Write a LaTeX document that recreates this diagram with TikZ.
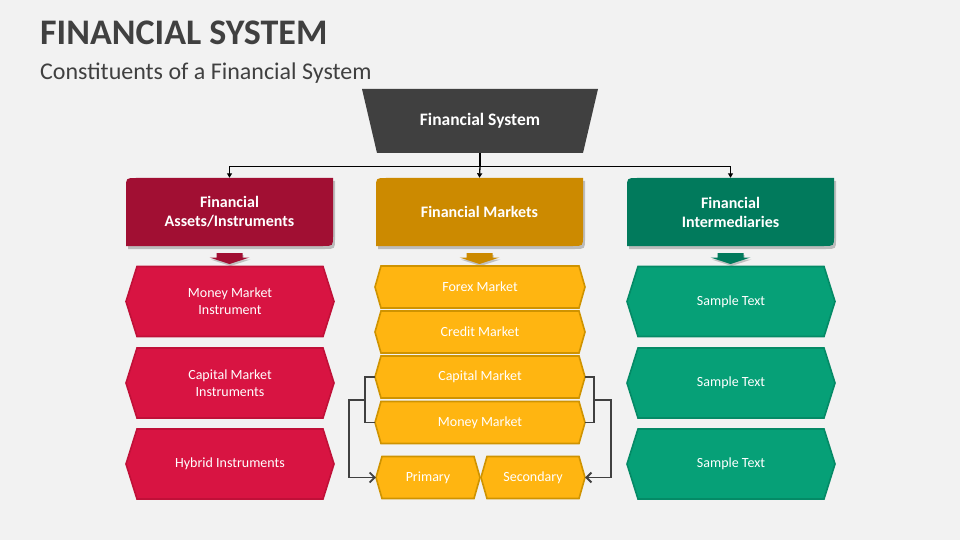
\documentclass[tikz,border=0pt]{standalone}
\usepackage{fontspec}
\setmainfont{Carlito}
\usetikzlibrary{arrows.meta,calc}
\definecolor{bg}{HTML}{F2F2F2}
\definecolor{ink}{HTML}{404040}
\definecolor{crimD}{HTML}{A10F33}
\definecolor{crimL}{HTML}{D81442}
\definecolor{crimB}{HTML}{C01038}
\definecolor{goldD}{HTML}{CC8A00}
\definecolor{goldL}{HTML}{FFB511}
\definecolor{goldB}{HTML}{CF9300}
\definecolor{tealD}{HTML}{017A5C}
\definecolor{tealL}{HTML}{06A077}
\definecolor{tealB}{HTML}{048A66}
% #1 name, #2 cx, #3 cy, #4 colour, #5 text
\newcommand\hdrbox[5]{%
  \fill[black,opacity=.22,shift={(2,3)}] (#2-103.5,#3+34) -- (#2-103.5,#3-24) .. controls (#2-103.5,#3-34) .. (#2-93.5,#3-34) -- (#2+103.5,#3-34) -- (#2+103.5,#3+24) .. controls (#2+103.5,#3+34) .. (#2+93.5,#3+34) -- cycle;
  \fill[#4] (#2-103.5,#3+34) -- (#2-103.5,#3-24) .. controls (#2-103.5,#3-34) .. (#2-93.5,#3-34) -- (#2+103.5,#3-34) -- (#2+103.5,#3+24) .. controls (#2+103.5,#3+34) .. (#2+93.5,#3+34) -- cycle;
  \fill[black,opacity=.2,shift={(1,2)}] (#2-13,253) -- (#2+13,253) -- (#2+13,257.5) -- (#2+20,257.5) -- (#2,264) -- (#2-20,257.5) -- (#2-13,257.5) -- cycle;
  \fill[#4] (#2-13,253) -- (#2+13,253) -- (#2+13,257.5) -- (#2+20,257.5) -- (#2,264) -- (#2-20,257.5) -- (#2-13,257.5) -- cycle;
  \node[hdrtext, minimum width=207, minimum height=68] (#1) at (#2,#3) {#5};
}
% #1 name, #2 cx, #3 cy, #4 half width, #5 half height, #6 indent, #7 fill, #8 border, #9 text
\newcommand\hexbox[9]{%
  \filldraw[fill=#7, draw=#8, line width=1.6] (#2-#4,#3) -- (#2-#4+#6,#3-#5) -- (#2+#4-#6,#3-#5) -- (#2+#4,#3) -- (#2+#4-#6,#3+#5) -- (#2-#4+#6,#3+#5) -- cycle;
  \node[hextext, minimum width=2*#4, minimum height=2*#5] (#1) at (#2,#3) {#9};
}
\tikzset{
  hdrtext/.style={text=white, align=center, inner sep=0, font=\fontsize{16}{19}\selectfont\bfseries},
  hextext/.style={text=white, align=center, inner sep=0, font=\fontsize{14}{17}\selectfont},
  conn/.style={black, line width=1.3, -{Triangle[length=4.5,width=5]}},
  brk/.style={ink, line width=1.8},
  brkarrow/.style={ink, line width=1.8, -{Straight Barb[length=5,width=10,line width=1.8]}}
}
\begin{document}
\begin{tikzpicture}[x=1pt,y=-1pt]
\fill[bg] (0,0) rectangle (960,540);
\useasboundingbox (0,0) rectangle (960,540);
% titles
\node[anchor=base west, inner sep=0, text=ink, font=\fontsize{36}{40}\selectfont\bfseries] (title) at (40,45) {FINANCIAL SYSTEM};
\node[anchor=base west, inner sep=0, text=ink, font=\fontsize{24}{28}\selectfont] (subtitle) at (40,80) {Constituents of a Financial System};
% top trapezoid
\fill[ink] (362,89) -- (598,89) -- (583,153) -- (377,153) -- cycle;
\node[text=white, inner sep=0, minimum height=64, font=\fontsize{17.5}{21}\selectfont\bfseries] (fs) at (480,121) {Financial System};
% headers
\hdrbox{h1}{229.5}{212}{crimD}{Financial\\Assets/Instruments}
\hdrbox{h2}{479.5}{212}{goldD}{Financial Markets}
\hdrbox{h3}{730.5}{212}{tealD}{Financial\\Intermediaries}
% connectors from top
\draw[line width=1.3] (fs.south) -- ++(0,13) coordinate (j);
\draw[conn] (j) -| (h1.north);
\draw[conn] (j) -| (h3.north);
\draw[conn] (j) -- (h2.north);
% left column
\hexbox{l1}{230}{301.5}{104}{35}{11}{crimL}{crimB}{Money Market\\Instrument}
\hexbox{l2}{230}{383}{104}{35}{11}{crimL}{crimB}{Capital Market\\Instruments}
\hexbox{l3}{230}{464}{104}{35}{11}{crimL}{crimB}{Hybrid Instruments}
% right column
\hexbox{r1}{731}{301.5}{104}{35}{11}{tealL}{tealB}{Sample Text}
\hexbox{r2}{731}{383}{104}{35}{11}{tealL}{tealB}{Sample Text}
\hexbox{r3}{731}{464}{104}{35}{11}{tealL}{tealB}{Sample Text}
% middle column
\hexbox{m1}{480}{287}{105}{21}{6}{goldL}{goldB}{Forex Market}
\hexbox{m2}{480}{332}{105}{21}{6}{goldL}{goldB}{Credit Market}
\hexbox{m3}{480}{377}{105}{21}{6}{goldL}{goldB}{Capital Market}
\hexbox{m4}{480}{422.5}{105}{21}{6}{goldL}{goldB}{Money Market}
\hexbox{prim}{428}{477.5}{52}{21}{6}{goldL}{goldB}{Primary}
\hexbox{sec}{533}{477.5}{52}{21}{6}{goldL}{goldB}{Secondary}
% brackets
\draw[brk] (m3.west) -- ++(-10,0) |- (m4.west);
\coordinate (bl) at ($($(m3.west)!0.5!(m4.west)$)+(-10,0)$);
\draw[brkarrow] (bl) -- ++(-16,0) |- (prim.west);
\draw[brk] (m3.east) -- ++(9,0) |- (m4.east);
\coordinate (br) at ($($(m3.east)!0.5!(m4.east)$)+(9,0)$);
\draw[brkarrow] (br) -- ++(17,0) |- (sec.east);
\end{tikzpicture}
\end{document}
